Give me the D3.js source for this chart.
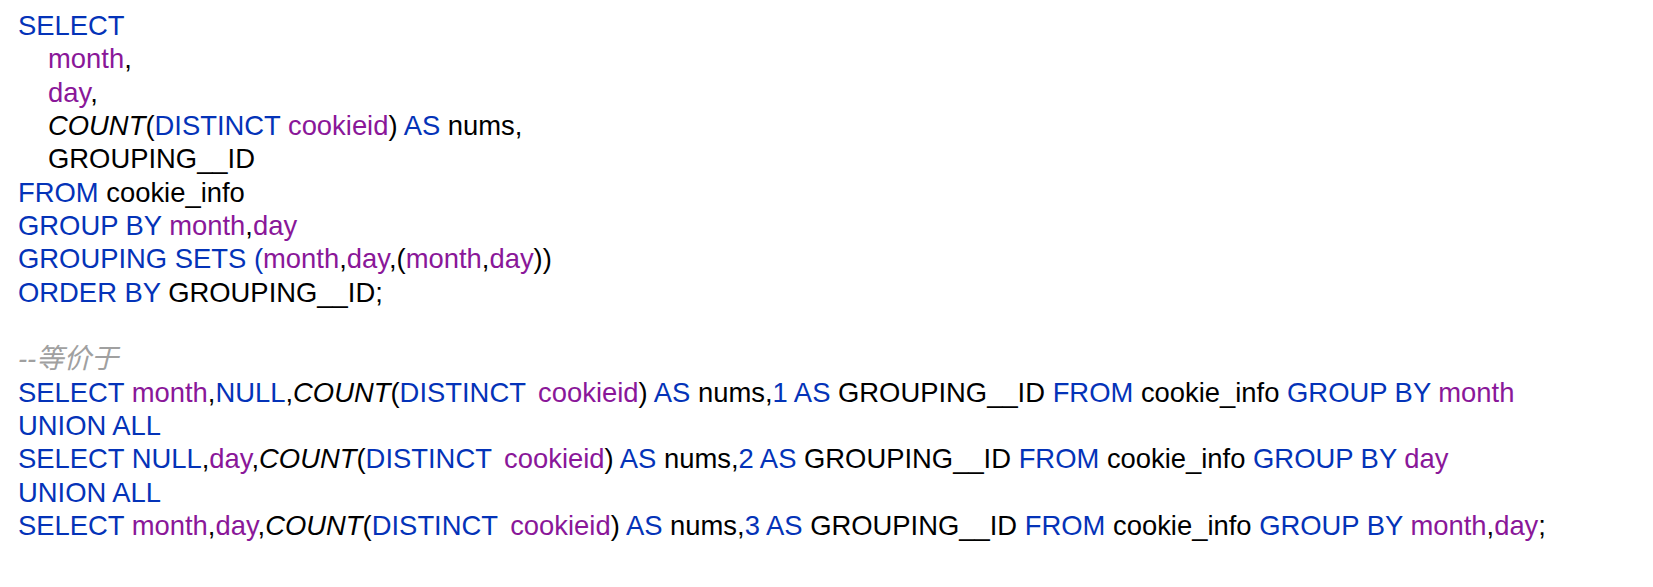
<!DOCTYPE html>
<html><head><meta charset="utf-8">
<script src="https://cdn.jsdelivr.net/npm/d3@7"></script>
<style>body{margin:0;background:#fff}</style></head>
<body><svg id="c" width="1653" height="587"></svg>
<script>
// token kinds: k keyword(blue), p identifier(purple), b plain(black), i italic function, c comment, w wide-gap keyword
const lineIndent = [0,1,1,1,1,0,0,0,0,0,0,0,0,0,0,0];
const codeLines = [
 [["SELECT","k"]],
 [["month","p"],[",","b"]],
 [["day","p"],[",","b"]],
 [["COUNT","i"],["(","b"],["DISTINCT ","k"],["cookieid","p"],[") ","b"],["AS ","k"],["nums,","b"]],
 [["GROUPING__ID","b"]],
 [["FROM ","k"],["cookie_info","b"]],
 [["GROUP BY ","k"],["month","p"],[",","b"],["day","p"]],
 [["GROUPING SETS ","k"],["(","k"],["month","p"],[",","b"],["day","p"],[",(","b"],["month","p"],[",","b"],["day","p"],["))","b"]],
 [["ORDER BY ","k"],["GROUPING__ID;","b"]],
 [],
 [["--等价于","c"]],
 [["SELECT ","k"],["month","p"],[",","b"],["NULL","k"],[",","b"],["COUNT","i"],["(","b"],["DISTINCT ","k"],["cookieid","w"],[") ","b"],["AS ","k"],["nums,","b"],["1 ","k"],["AS ","k"],["GROUPING__ID ","b"],["FROM ","k"],["cookie_info ","b"],["GROUP BY ","k"],["month","p"]],
 [["UNION ALL","k"]],
 [["SELECT ","k"],["NULL","k"],[",","b"],["day","p"],[",","b"],["COUNT","i"],["(","b"],["DISTINCT ","k"],["cookieid","w"],[") ","b"],["AS ","k"],["nums,","b"],["2 ","k"],["AS ","k"],["GROUPING__ID ","b"],["FROM ","k"],["cookie_info ","b"],["GROUP BY ","k"],["day","p"]],
 [["UNION ALL","k"]],
 [["SELECT ","k"],["month","p"],[",","b"],["day","p"],[",","b"],["COUNT","i"],["(","b"],["DISTINCT ","k"],["cookieid","w"],[") ","b"],["AS ","k"],["nums,","b"],["3 ","k"],["AS ","k"],["GROUPING__ID ","b"],["FROM ","k"],["cookie_info ","b"],["GROUP BY ","k"],["month","p"],[",","b"],["day","p"],[";","b"]]
];
const colors = {k:"#0433b8",p:"#8a1799",w:"#8a1799",b:"#000",i:"#000",c:"#a0a0a0"};
const svg = d3.select("#c");
const y = d3.scaleLinear().domain([0,15]).range([35,535]);
const x = d3.scaleLinear().domain([0,1]).range([18,48]);
const t = svg.selectAll("text").data(codeLines).join("text")
  .attr("x",(d,i)=>x(lineIndent[i])).attr("y",(d,i)=>y(i))
  .attr("xml:space","preserve")
  .style("font-family","'Liberation Sans',Arial,'Noto Sans CJK SC',sans-serif")
  .style("font-size","27.4px");
t.selectAll("tspan").data(d=>d).join("tspan")
  .text(d=>d[0]).attr("fill",d=>colors[d[1]])
  .attr("dx",d=>d[1]==="w"?5:null)
  .style("font-style",d=>(d[1]==="i"||d[1]==="c")?"italic":"normal");
</script></body></html>
